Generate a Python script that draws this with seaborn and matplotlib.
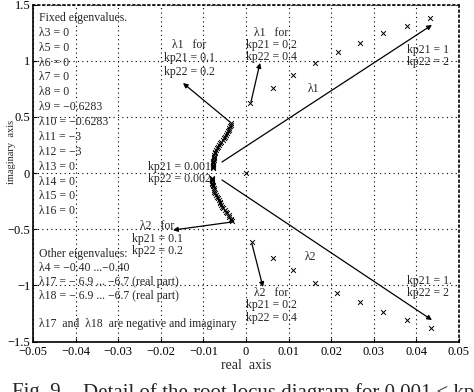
import numpy as np
import pandas as pd
import matplotlib
matplotlib.use('Agg')
import matplotlib.pyplot as plt
import seaborn as sns

# root-locus points
# lambda1 dense part (small gains, near the imaginary axis)
l1_dense_re = [-0.0078, -0.0078, -0.0078, -0.0078, -0.0077, -0.0077, -0.0077, -0.0076,
               -0.0076, -0.0075, -0.0074, -0.0073, -0.0072, -0.0070, -0.0068, -0.0066,
               -0.0064, -0.0061, -0.0058, -0.0055, -0.0052, -0.0049, -0.0047, -0.0045,
               -0.0043, -0.0041, -0.0039, -0.0037, -0.0036, -0.0035]
l1_dense_im = [0.045, 0.055, 0.065, 0.075, 0.085, 0.095, 0.105, 0.115,
               0.13, 0.145, 0.16, 0.175, 0.19, 0.205, 0.22, 0.235,
               0.25, 0.265, 0.28, 0.295, 0.31, 0.325, 0.34, 0.355,
               0.37, 0.385, 0.40, 0.415, 0.43, 0.445]
# lambda2 dense part
l2_dense_re = [-0.0080, -0.0080, -0.0080, -0.0079, -0.0079, -0.0079, -0.0078, -0.0077,
               -0.0076, -0.0075, -0.0074, -0.0072, -0.0070, -0.0068, -0.0066, -0.0064,
               -0.0062, -0.0060, -0.0058, -0.0056, -0.0053, -0.0050, -0.0047, -0.0044,
               -0.0041, -0.0039, -0.0036, -0.0034, -0.0033]
l2_dense_im = [-0.045, -0.055, -0.065, -0.075, -0.085, -0.095, -0.105, -0.12,
               -0.135, -0.15, -0.165, -0.18, -0.195, -0.21, -0.225, -0.24,
               -0.255, -0.27, -0.285, -0.30, -0.315, -0.33, -0.345, -0.36,
               -0.375, -0.39, -0.405, -0.42, -0.43]
# larger gains (kp21 = 0.2 ... 1)
l1_sparse_re = [0.0009, 0.0063, 0.0110, 0.0162, 0.0216, 0.0268, 0.0322, 0.0378, 0.0432]
l1_sparse_im = [0.623, 0.757, 0.873, 0.980, 1.077, 1.158, 1.247, 1.309, 1.380]
l2_sparse_re = [0.0014, 0.0063, 0.0110, 0.0162, 0.0214, 0.0268, 0.0322, 0.0378, 0.0434]
l2_sparse_im = [-0.614, -0.757, -0.864, -0.980, -1.069, -1.149, -1.238, -1.309, -1.380]
origin_re = [0.0]
origin_im = [0.0]

x_ticks = [-0.05, -0.04, -0.03, -0.02, -0.01, 0, 0.01, 0.02, 0.03, 0.04, 0.05]
x_labels = ['\u22120.05', '\u22120.04', '\u22120.03', '\u22120.02', '\u22120.01', '0',
            '0.01', '0.02', '0.03', '0.04', '0.05']
y_ticks = [-1.5, -1, -0.5, 0, 0.5, 1, 1.5]
y_labels = ['\u22121.5', '\u22121', '\u22120.5', '0', '0.5', '1', '1.5']

fixed_text = ('Fixed eigenvalues.\n\u03bb3 = 0\n\u03bb5 = 0\n\u03bb6 = 0\n\u03bb7 = 0\n'
              '\u03bb8 = 0\n\u03bb9 = \u22120.6283\n\u03bb10 = \u22120.6283\n'
              '\u03bb11 = \u22123\n\u03bb12 = \u22123\n\u03bb13 = 0\n\u03bb14 = 0\n'
              '\u03bb15 = 0\n\u03bb16 = 0')
other_text = ('Other eigenvalues:\n\u03bb4 = \u22120.40 ...\u22120.40\n'
              '\u03bb17 = \u2212 6.9 ... \u22126.7 (real part)\n'
              '\u03bb18 = \u2212 6.9 ... \u22126.7 (real part)\n\n'
              '\u03bb17  and  \u03bb18  are negative and imaginary')

df = pd.concat([
    pd.DataFrame({'re': l1_dense_re, 'im': l1_dense_im, 'branch': 'l1'}),
    pd.DataFrame({'re': l2_dense_re, 'im': l2_dense_im, 'branch': 'l2'}),
    pd.DataFrame({'re': l1_sparse_re, 'im': l1_sparse_im, 'branch': 'l1'}),
    pd.DataFrame({'re': l2_sparse_re, 'im': l2_sparse_im, 'branch': 'l2'}),
    pd.DataFrame({'re': origin_re, 'im': origin_im, 'branch': 'o'}),
], ignore_index=True)

sns.set_style('ticks')
plt.rcParams['font.family'] = ['Liberation Serif', 'DejaVu Serif']
plt.rcParams['axes.unicode_minus'] = True

fig = plt.figure(figsize=(4.74, 3.92), dpi=100)
ax = fig.add_axes([0.0696, 0.1288, 0.8987, 0.8597])

sns.scatterplot(data=df, x='re', y='im', marker='x', color='black', s=12,
                linewidth=0.7, legend=False, ax=ax)

ax.set_xlim(-0.05, 0.05)
ax.set_ylim(-1.5, 1.5)
ax.set_xticks(x_ticks)
ax.set_xticklabels(x_labels)
ax.set_yticks(y_ticks)
ax.set_yticklabels(y_labels)
ax.tick_params(direction='in', length=3, width=0.8, labelsize=9, pad=3, colors='black')
ax.tick_params(axis='y', pad=2)
ax.grid(True, linestyle=(0, (1, 3)), color='black', linewidth=0.8)
ax.set_xlabel('real  axis', fontsize=10, labelpad=1)
ax.set_ylabel('imaginary  axis', fontsize=7.5)
ax.yaxis.set_label_coords(-0.040, 0.562)

for side in ['left', 'bottom']:
    ax.spines[side].set_linewidth(1.2)
    ax.spines[side].set_color('black')
for side in ['top', 'right']:
    ax.spines[side].set_visible(True)
    ax.spines[side].set_linestyle((0, (1, 2)))
    ax.spines[side].set_linewidth(1.2)
    ax.spines[side].set_color('black')

fs = 8.5
ax.text(-0.0486, 1.434, fixed_text, fontsize=fs, va='top', ha='left', linespacing=1.32)
ax.text(-0.0486, -0.668, other_text, fontsize=fs, va='top', ha='left', linespacing=1.22)

ax.text(-0.01338, 1.195, '\u03bb1   for\nkp21 = 0.1\nkp22 = 0.2', fontsize=fs,
        va='top', ha='center', multialignment='center', linespacing=1.18)
ax.text(0.00587, 1.300, '\u03bb1   for\nkp21 = 0.2\nkp22 = 0.4', fontsize=fs,
        va='top', ha='center', multialignment='center', linespacing=1.0)
ax.text(-0.00822, 0.0, 'kp21 = 0.001\nkp22 = 0.002', fontsize=fs,
        va='center', ha='right', linespacing=1.05)
ax.text(-0.02089, -0.419, '\u03bb2   for\nkp21 = 0.1\nkp22 = 0.2', fontsize=fs,
        va='top', ha='center', multialignment='center', linespacing=1.05)
ax.text(0.00587, -1.015, '\u03bb2   for\nkp21 = 0.2\nkp22 = 0.4', fontsize=fs,
        va='top', ha='center', multialignment='center', linespacing=1.05)
ax.text(0.0378, 1.042, 'kp21 = 1\nkp22 = 2', fontsize=fs, va='center', ha='left',
        linespacing=1.0)
ax.text(0.0378, -1.015, 'kp21 = 1.\nkp22 = 2', fontsize=fs, va='center', ha='left',
        linespacing=1.1)
ax.text(0.01596, 0.748, '\u03bb1', fontsize=fs, va='center', ha='center')
ax.text(0.01526, -0.748, '\u03bb2', fontsize=fs, va='center', ha='center')

arrow_kw = dict(arrowstyle='-|>', color='black', lw=0.9, mutation_scale=7,
                shrinkA=0, shrinkB=0)
arrows = [
    ((-0.00563, 0.098), (0.04366, 1.318)),
    ((-0.00563, -0.062), (0.04366, -1.309)),
    ((-0.00376, 0.454), (-0.01479, 0.801)),
    ((0.00117, 0.632), (0.00329, 0.980)),
    ((-0.00329, -0.436), (-0.01714, -0.508)),
    ((0.00141, -0.632), (0.00399, -1.015)),
]
for start, end in arrows:
    ax.annotate('', xy=end, xytext=start, arrowprops=arrow_kw)

# caption, clipped by the bottom edge as in the scan
cap_y = 1 - 383.5 / 392
fig.text(12 / 474, cap_y, 'Fig. 9.', fontsize=15, va='top', ha='left')
fig.text(83 / 474, cap_y, 'Detail of the root locus diagram for 0.001 \u2264 kp21',
         fontsize=15, va='top', ha='left')

fig.savefig('out.png', dpi=100)
